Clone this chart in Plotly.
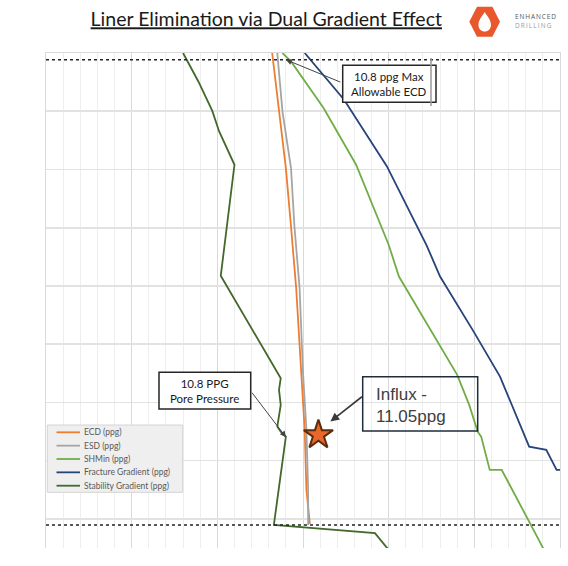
import plotly.graph_objects as go

# ---------------- data ----------------
series_names = ["ECD (ppg)", "ESD (ppg)", "SHMin (ppg)",
                "Fracture Gradient (ppg)", "Stability Gradient (ppg)"]
series_colors = ["#ED7D31", "#A5A5A5", "#70AD47", "#264478", "#43682B"]

ecd_ppg = [10.82, 10.86, 10.90, 10.93, 10.96, 10.99, 11.01, 11.02, 11.04]
ecd_depth = [5000, 6003, 6976, 7979, 9032, 10498, 11472, 12503, 13087]

esd_ppg = [10.85, 10.88, 10.93, 10.95, 10.98, 11.00, 11.02, 11.03, 11.03]
esd_depth = [5000, 6003, 6976, 7979, 9032, 10492, 11472, 12503, 13104]

shmin_ppg = [10.88, 10.93, 11.12, 11.31, 11.50, 11.56, 11.90, 11.97, 12.02,
             12.04, 12.09, 12.16, 12.33, 12.42]
shmin_depth = [5000, 5144, 5945, 6919, 8293, 8838, 10527, 11042, 11506,
               11587, 12160, 12160, 13104, 13607]

frac_ppg = [11.01, 11.24, 11.49, 11.72, 11.80, 11.99, 12.15, 12.28, 12.32,
            12.42, 12.48, 12.53]
frac_depth = [5000, 5802, 6948, 8293, 8838, 9754, 10556, 11472, 11759,
              11815, 12160, 12160]

stab_ppg = [10.30, 10.39, 10.47, 10.50, 10.51, 10.60, 10.52, 10.87, 10.86,
            10.87, 10.85, 10.87, 10.90, 10.83, 11.42, 11.51]
stab_depth = [5000, 5493, 5991, 6232, 6343, 6919, 8826, 10584, 10785,
              11042, 11415, 11501, 11587, 13104, 13246, 13568]

influx_ppg = [11.09]
influx_depth = [11558]

limit_depths = [5115, 13105]          # dotted depth limits

max_ecd_ppg, max_ecd_depth = 10.90, 5115
pore_ppg, pore_depth = 10.90, 11597
influx_tip_ppg, influx_tip_depth = 11.16, 11329

title_text = "Liner Elimination via Dual Gradient Effect"
box1_text = "10.8 ppg Max<br>Allowable ECD"
box2_text = "10.8 PPG<br>Pore Pressure"
box3_text = "Influx -<br>11.05ppg"

x_range = [9.5, 12.5]
y_range = [13500, 5000]

# ---------------- layout geometry ----------------
W, H = 568, 566
L, R, T, B = 46, 8, 53, 18
PW, PH = W - L - R, H - T - B


def fx(X):
    return (X - L) / PW


def fy(Y):
    return (H - B - Y) / PH


fig = go.Figure()

all_x = [ecd_ppg, esd_ppg, shmin_ppg, frac_ppg, stab_ppg]
all_y = [ecd_depth, esd_depth, shmin_depth, frac_depth, stab_depth]
for name, col, xs, ys in zip(series_names, series_colors, all_x, all_y):
    fig.add_trace(go.Scatter(x=xs, y=ys, mode="lines", name=name,
                             line=dict(color=col, width=1.8),
                             showlegend=False))

fig.add_trace(go.Scatter(x=influx_ppg, y=influx_depth, mode="markers",
                         name="Influx", showlegend=False,
                         marker=dict(symbol="star", size=22, color="#E8672A",
                                     line=dict(color="#5B2C0E", width=2))))

shapes = []
# dotted depth limits
for d in limit_depths:
    shapes.append(dict(type="line", xref="paper", yref="y", x0=0, x1=1,
                       y0=d, y1=d, line=dict(color="#222222", width=1.6,
                                             dash="dot"), layer="above"))


def rect(x0, y0, x1, y1, line_col, fill, lw=1.5):
    return dict(type="rect", xref="paper", yref="paper",
                x0=fx(x0), x1=fx(x1), y0=fy(y1), y1=fy(y0),
                line=dict(color=line_col, width=lw), fillcolor=fill,
                layer="above")


shapes.append(rect(342.7, 65.3, 436, 102.3, "#262626", "white"))
shapes.append(rect(159, 372.3, 250.7, 409, "#262626", "white"))
shapes.append(rect(362.7, 376.7, 477.7, 431, "#1F2D3D", "rgba(0,0,0,0)"))
# small gray tick at right of top box
shapes.append(dict(type="line", xref="paper", yref="paper",
                   x0=fx(431), x1=fx(431), y0=fy(58), y1=fy(106),
                   line=dict(color="#9a9a9a", width=1.5), layer="above"))

# manual legend
lx0, ly0, lx1, ly1 = 47.3, 425, 182.7, 492.3
shapes.append(dict(type="rect", xref="paper", yref="paper",
                   x0=fx(lx0), x1=fx(lx1), y0=fy(ly1), y1=fy(ly0),
                   line=dict(color="#d4d4d4", width=1),
                   fillcolor="#efefef", layer="above"))
annotations = []
for i, (name, col) in enumerate(zip(series_names, series_colors)):
    yy = 432.3 + i * 13.35
    shapes.append(dict(type="line", xref="paper", yref="paper",
                       x0=fx(56.5), x1=fx(80), y0=fy(yy), y1=fy(yy),
                       line=dict(color=col, width=1.8), layer="above"))
    annotations.append(dict(xref="paper", yref="paper", x=fx(82), y=fy(yy),
                            xanchor="left", yanchor="middle", text=name,
                            showarrow=False,
                            font=dict(family="Lato", size=8.5,
                                      color="#595959")))


def path(cmds):
    out = []
    for c in cmds:
        if isinstance(c, str):
            out.append(c)
        else:
            out.append(f"{fx(c[0]):.5f},{fy(c[1]):.5f}")
    return " ".join(out)


hexagon = path(["M", (469.3, 21.7), "L", (477.0, 6.7), "L", (492.4, 6.7),
                "L", (500.0, 21.7), "L", (492.4, 36.7), "L", (477.0, 36.7),
                "Z"])
shapes.append(dict(type="path", xref="paper", yref="paper", path=hexagon,
                   fillcolor="#E8582C", line=dict(width=0), layer="above"))
drop = path(["M", (484.7, 12.0), "C", (487.5, 16.5), (491.0, 20.0),
             (491.0, 25.0), "C", (491.0, 28.8), (488.2, 31.5), (484.7, 31.5),
             "C", (481.2, 31.5), (478.4, 28.8), (478.4, 25.0),
             "C", (478.4, 20.0), (481.9, 16.5), (484.7, 12.0), "Z"])
shapes.append(dict(type="path", xref="paper", yref="paper", path=drop,
                   fillcolor="white", line=dict(width=0), layer="above"))

annotations += [
    dict(xref="paper", yref="paper", x=fx(513), y=fy(16.8), xanchor="left",
         yanchor="middle", showarrow=False,
         text='<span style="letter-spacing:0.9px">ENHANCED</span>',
         font=dict(family="Open Sans", size=6.5, color="#555555")),
    dict(xref="paper", yref="paper", x=fx(513), y=fy(25.2), xanchor="left",
         yanchor="middle", showarrow=False,
         text='<span style="letter-spacing:1.1px">DRILLING</span>',
         font=dict(family="Open Sans", size=6.5, color="#9a9a9a")),
    # box texts
    dict(xref="paper", yref="paper", x=fx(389.3), y=fy(83.8),
         xanchor="center", yanchor="middle", showarrow=False, text=box1_text,
         font=dict(family="Lato", size=11.5, color="#1a1a1a")),
    dict(xref="paper", yref="paper", x=fx(204.8), y=fy(390.7),
         xanchor="center", yanchor="middle", showarrow=False, text=box2_text,
         font=dict(family="Lato", size=11.5, color="#1a1a1a")),
    dict(xref="paper", yref="paper", x=fx(373.5), y=fy(405),
         xanchor="left", yanchor="middle", showarrow=False, text=box3_text,
         align="left",
         font=dict(family="Liberation Sans", size=17, color="#404040")),
    # arrows
    dict(x=max_ecd_ppg, y=max_ecd_depth, xref="x", yref="y", text="",
         showarrow=True, ax=56, ay=23, arrowhead=2, arrowsize=1.2,
         arrowwidth=1, arrowcolor="#444444", standoff=0),
    dict(x=pore_ppg, y=pore_depth, xref="x", yref="y", text="",
         showarrow=True, ax=-35, ay=-46, arrowhead=2, arrowsize=1.2,
         arrowwidth=1, arrowcolor="#444444", standoff=0),
    dict(x=influx_tip_ppg, y=influx_tip_depth, xref="x", yref="y", text="",
         showarrow=True, ax=33, ay=-26, arrowhead=2, arrowsize=1.1,
         arrowwidth=1.6, arrowcolor="#3a3a3a", standoff=0),
]

fig.update_layout(
    width=W, height=H,
    margin=dict(l=L, r=R, t=T, b=B, pad=0),
    paper_bgcolor="white", plot_bgcolor="white",
    showlegend=False,
    hovermode=False,
    title=dict(text=f"<u>{title_text}</u>", xref="container", yref="container",
               x=266.3 / W, xanchor="center", y=1 - 19.5 / H,
               yanchor="middle",
               font=dict(family="Lato", size=19.5, color="#1a1a1a")),
    shapes=shapes, annotations=annotations,
    xaxis=dict(range=x_range, tick0=9.5, dtick=0.5, showticklabels=False,
               ticks="", side="top", showline=True, linecolor="#d9d9d9",
               linewidth=1, zeroline=False, showgrid=True,
               gridcolor="#d9d9d9", gridwidth=1,
               minor=dict(dtick=0.1, tick0=9.5, showgrid=True,
                          gridcolor="#eeeeee", gridwidth=1)),
    yaxis=dict(range=y_range, tick0=5000, dtick=1000, showticklabels=False,
               ticks="", showline=True, mirror=True, linecolor="#d9d9d9",
               linewidth=1, zeroline=False, showgrid=True,
               gridcolor="#e2e2e2", gridwidth=1.6),
)

fig.write_html("out.html",
               config={"displayModeBar": False, "staticPlot": True},
               post_script="document.body.style.margin='0px';"
                           "document.body.style.padding='0px';")
